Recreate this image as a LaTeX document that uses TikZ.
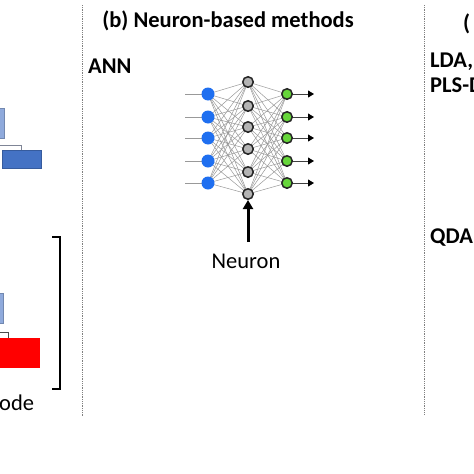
\documentclass[tikz,border=0pt]{standalone}
\usepackage{fontspec}
\setmainfont{Carlito}
\usetikzlibrary{arrows.meta}
\definecolor{lblue}{HTML}{8FAADC}
\definecolor{mblue}{HTML}{4472C4}
\definecolor{nblue}{HTML}{1F6FF0}
\definecolor{ngray}{HTML}{B4B4B4}
\definecolor{ngreen}{HTML}{66D63A}
\definecolor{conn}{HTML}{7F8596}
\tikzset{
  txt/.style={font=\fontsize{22.5}{25}\selectfont, inner sep=0pt},
  btxt/.style={font=\fontsize{22.5}{25}\selectfont\bfseries, inner sep=0pt},
  sep/.style={draw=gray, densely dotted, line width=0.8pt},
  inn/.style={circle, fill=nblue, minimum size=13pt, inner sep=0pt},
  hid/.style={circle, fill=ngray, draw=black!85, line width=1.5pt, minimum size=10.5pt, inner sep=0pt},
  outn/.style={circle, fill=ngreen, draw=black!85, line width=1.5pt, minimum size=10.5pt, inner sep=0pt},
  wire/.style={draw=gray!80, line width=0.5pt},
  bar/.style={line width=0.6pt},
}
\begin{document}
\begin{tikzpicture}[x=1pt,y=-1pt]
\useasboundingbox (0,0) rectangle (474,474);
\clip (0,0) rectangle (474,474);
\fill[white] (0,0) rectangle (474,474);
% separators
\coordinate (s1t) at (82,5); \coordinate (s1b) at (82,417);
\coordinate (s2t) at (424,5); \coordinate (s2b) at (424,415);
\draw[sep] (s1t) -- (s1b);
\draw[sep] (s2t) -- (s2b);
% left panel fragments
\node[bar, fill=lblue, draw=lblue!80!black, minimum width=6pt, minimum height=30pt, inner sep=0pt, anchor=north east] (lb1) at (5,108) {};
\node[bar, fill=mblue, draw=mblue!80!black, minimum width=39pt, minimum height=18pt, inner sep=0pt, anchor=north west] (b1) at (2,150) {};
\coordinate (c1a) at (0,145); \coordinate (c1b) at (21,145);
\draw[conn, line width=1pt] (c1a) -- (c1b) -- (c1b |- b1.north);
\node[bar, fill=lblue, draw=lblue!80!black, minimum width=6pt, minimum height=30pt, inner sep=0pt, anchor=north east] (lb2) at (4,293) {};
\node[fill=red, minimum width=42pt, minimum height=30pt, inner sep=0pt, anchor=north west] (r1) at (-2,338) {};
\coordinate (c2a) at (0,332); \coordinate (c2b) at (8,332);
\draw[black!70, line width=1pt] (c2a) -- (c2b) -- (c2b |- r1.north);
\coordinate (brt) at (52,237); \coordinate (brb) at (52,389);
\draw[line width=2.6pt] (brt) -- (60,237) -- (60,389) -- (brb);
\node[txt, anchor=base west] (ode) at (-1,410) {ode};
% middle panel
\node[btxt] (hb) at (228,21) {(b) Neuron-based methods};
\node[btxt, anchor=west] (ann) at (88,66) {ANN};
\foreach \i/\y in {1/94,2/117,3/138,4/161,5/183} {
  \coordinate (in\i) at (185,\y);
  \coordinate (out\i) at (314,\y);
  \coordinate (pi\i) at (208,\y);
  \coordinate (po\i) at (287,\y);
}
\foreach \j/\y in {1/82,2/106,3/127,4/149,5/172,6/194} {
  \coordinate (ph\j) at (248,\y);
}
\foreach \i in {1,...,5} {
  \draw[wire] (in\i) -- (pi\i);
  \foreach \j in {1,...,6} {
    \draw[wire] (pi\i) -- (ph\j);
    \draw[wire] (ph\j) -- (po\i);
  }
}
\foreach \i in {1,...,5} {
  \node[inn] (i\i) at (pi\i) {};
  \node[outn] (o\i) at (po\i) {};
}
\foreach \j in {1,...,6} { \node[hid] (h\j) at (ph\j) {}; }
\foreach \i in {1,...,5} {
  \draw[black!75, line width=0.8pt, -{Triangle[length=6pt,width=7pt,color=black]}] (o\i) -- (out\i);
}
\node[txt] (neu) at (246,261) {Neuron};
\coordinate (arb) at (248,242);
\draw[line width=3pt, -{Triangle[length=9pt,width=10pt]}] (arb) -- (h6.south);
% right panel
\node[btxt, anchor=west] (hc) at (463,24) {(};
\node[btxt, anchor=west] (lda) at (430,62) {LDA,};
\node[btxt, anchor=west] (pls) at (430,85) {PLS-D};
\node[btxt, anchor=west] (qda) at (430,238) {QDA};
\end{tikzpicture}
\end{document}
